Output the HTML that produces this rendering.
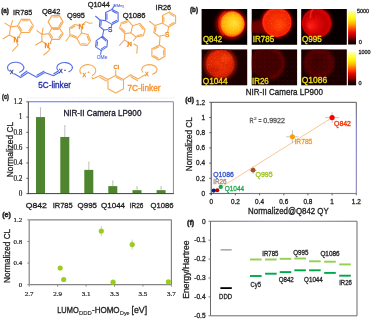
<!DOCTYPE html>
<html><head><meta charset="utf-8"><title>Figure</title>
<style>
html,body{margin:0;padding:0;background:#fff;}
body{width:372px;height:320px;overflow:hidden;}
svg{display:block;font-family:'Liberation Sans',sans-serif;}
</style></head><body>
<svg width="372" height="320" viewBox="0 0 372 320">
<rect width="372" height="320" fill="#fff"/>
<defs>
<linearGradient id="cbar" x1="0" y1="1" x2="0" y2="0">
<stop offset="0" stop-color="#08000c"/>
<stop offset="0.08" stop-color="#200000"/>
<stop offset="0.22" stop-color="#980000"/>
<stop offset="0.36" stop-color="#f00800"/>
<stop offset="0.5" stop-color="#ff6400"/>
<stop offset="0.62" stop-color="#ffb400"/>
<stop offset="0.74" stop-color="#fff000"/>
<stop offset="0.87" stop-color="#ffff50"/>
<stop offset="1" stop-color="#ffffc0"/>
</linearGradient>
<linearGradient id="topc" x1="0" y1="0" x2="1" y2="0">
<stop offset="0" stop-color="#6070f0"/>
<stop offset="0.55" stop-color="#7078d0"/>
<stop offset="1" stop-color="#8088a0"/>
</linearGradient>
<radialGradient id="g842" cx="0.5" cy="0.5" r="0.5" fx="0.62" fy="0.45">
<stop offset="0" stop-color="#ffe040"/>
<stop offset="0.45" stop-color="#ffc810"/>
<stop offset="0.75" stop-color="#ffa800"/>
<stop offset="0.9" stop-color="#ff6a00"/>
<stop offset="1" stop-color="#d81000"/>
</radialGradient>
<radialGradient id="g785" cx="0.5" cy="0.5" r="0.5" fx="0.62" fy="0.62">
<stop offset="0" stop-color="#ff4a08"/>
<stop offset="0.45" stop-color="#f83000"/>
<stop offset="0.8" stop-color="#ee2000"/>
<stop offset="0.93" stop-color="#ff2800"/>
<stop offset="1" stop-color="#b00000"/>
</radialGradient>
<radialGradient id="g995" cx="0.5" cy="0.5" r="0.5" fx="0.25" fy="0.62">
<stop offset="0" stop-color="#ff2418"/>
<stop offset="0.4" stop-color="#e00808"/>
<stop offset="0.75" stop-color="#c00000"/>
<stop offset="0.93" stop-color="#d80000"/>
<stop offset="1" stop-color="#800000"/>
</radialGradient>
<radialGradient id="g1044" cx="0.5" cy="0.5" r="0.5" fx="0.45" fy="0.45">
<stop offset="0" stop-color="#ec3000"/>
<stop offset="0.75" stop-color="#e02400"/>
<stop offset="0.92" stop-color="#c81800"/>
<stop offset="1" stop-color="#801000"/>
</radialGradient>
<radialGradient id="g26" cx="0.5" cy="0.5" r="0.5" fx="0.3" fy="0.5">
<stop offset="0" stop-color="#3a0000"/>
<stop offset="0.6" stop-color="#500000"/>
<stop offset="0.88" stop-color="#900000"/>
<stop offset="0.96" stop-color="#a80000"/>
<stop offset="1" stop-color="#300000"/>
</radialGradient>
<radialGradient id="g1086" cx="0.5" cy="0.5" r="0.5" fx="0.4" fy="0.5">
<stop offset="0" stop-color="#3a0000"/>
<stop offset="0.8" stop-color="#520000"/>
<stop offset="0.95" stop-color="#600000"/>
<stop offset="1" stop-color="#280000"/>
</radialGradient>
<filter id="spkY" x="0" y="0" width="100%" height="100%">
<feTurbulence type="fractalNoise" baseFrequency="0.75" numOctaves="2" seed="4" result="n"/>
<feColorMatrix in="n" type="matrix" values="0 0 0 0 1  0 0 0 0 0.88  0 0 0 0 0.3  2.0 0 0 0 -1.0" result="c"/>
<feComposite in="c" in2="SourceGraphic" operator="in"/>
</filter>
<filter id="spkR" x="0" y="0" width="100%" height="100%">
<feTurbulence type="fractalNoise" baseFrequency="0.7" numOctaves="2" seed="9" result="n"/>
<feColorMatrix in="n" type="matrix" values="0 0 0 0 1  0 0 0 0 0.4  0 0 0 0 0.1  2.0 0 0 0 -1.0" result="c"/>
<feComposite in="c" in2="SourceGraphic" operator="in"/>
</filter>
<filter id="spkD" x="0" y="0" width="100%" height="100%">
<feTurbulence type="fractalNoise" baseFrequency="0.7" numOctaves="2" seed="2" result="n"/>
<feColorMatrix in="n" type="matrix" values="0 0 0 0 0.6  0 0 0 0 0.02  0 0 0 0 0  2.0 0 0 0 -1.0" result="c"/>
<feComposite in="c" in2="SourceGraphic" operator="in"/>
</filter>
<pattern id="dots" x="0" y="0" width="4.6" height="4.6" patternUnits="userSpaceOnUse">
<rect x="2" y="2" width="0.8" height="0.8" fill="#707070" opacity="0.55"/>
</pattern>
<filter id="blur1" x="-50%" y="-50%" width="200%" height="200%"><feGaussianBlur stdDeviation="1.6"/></filter>
<filter id="blur05" x="-50%" y="-50%" width="200%" height="200%"><feGaussianBlur stdDeviation="0.7"/></filter>
<clipPath id="c1"><rect x="201.6" y="9" width="45.6" height="35.8"/></clipPath>
<clipPath id="c2"><rect x="251.7" y="9" width="45.4" height="35.8"/></clipPath>
<clipPath id="c3"><rect x="301.2" y="9" width="45.6" height="35.8"/></clipPath>
<clipPath id="c4"><rect x="201.6" y="49.4" width="45.6" height="35.9"/></clipPath>
<clipPath id="c5"><rect x="251.7" y="49.4" width="45.4" height="35.9"/></clipPath>
<clipPath id="c6"><rect x="301.2" y="49.4" width="45.6" height="35.9"/></clipPath>
</defs>
<text x="1.30" y="12.90" font-size="6.8" fill="#1e1e1e" stroke="#1e1e1e" stroke-width="0.42" textLength="7.60" lengthAdjust="spacingAndGlyphs" font-weight="bold">(a)</text>
<text x="13.10" y="14.60" font-size="7.3" fill="#1e1e1e" stroke="#1e1e1e" stroke-width="0.3" textLength="19.10" lengthAdjust="spacingAndGlyphs">IR785</text>
<text x="41.90" y="13.80" font-size="7.4" fill="#1e1e1e" stroke="#1e1e1e" stroke-width="0.3" textLength="18.50" lengthAdjust="spacingAndGlyphs">Q842</text>
<text x="66.90" y="18.10" font-size="7.3" fill="#1e1e1e" stroke="#1e1e1e" stroke-width="0.3" textLength="18.10" lengthAdjust="spacingAndGlyphs">Q995</text>
<text x="87.70" y="7.30" font-size="7.3" fill="#1e1e1e" stroke="#1e1e1e" stroke-width="0.3" textLength="22.30" lengthAdjust="spacingAndGlyphs">Q1044</text>
<text x="122.70" y="17.60" font-size="7.3" fill="#1e1e1e" stroke="#1e1e1e" stroke-width="0.3" textLength="22.90" lengthAdjust="spacingAndGlyphs">Q1086</text>
<text x="155.60" y="9.90" font-size="7.3" fill="#1e1e1e" stroke="#1e1e1e" stroke-width="0.3" textLength="15.60" lengthAdjust="spacingAndGlyphs">IR26</text>
<path d="M21.30,19.40 L29.40,19.40 L33.40,26.00 L29.40,32.50 L21.30,32.50 L17.50,26.00 Z" stroke="#f6aa55" stroke-width="1.1" fill="none" stroke-linejoin="round" stroke-linecap="round"/>
<path d="M22.60,20.75 L28.10,20.75 M31.61,26.33 L28.89,30.75 M21.86,30.78 L19.27,26.36" stroke="#f6aa55" stroke-width="1.1" fill="none" stroke-linejoin="round" stroke-linecap="round"/>
<path d="M17.50,26.00 L10.60,26.90 L9.40,35.00 L14.00,37.60" stroke="#f6aa55" stroke-width="1.1" fill="none" stroke-linejoin="round" stroke-linecap="round"/>
<path d="M18.20,37.20 L21.30,32.50" stroke="#f6aa55" stroke-width="1.1" fill="none" stroke-linejoin="round" stroke-linecap="round"/>
<path d="M5.00,23.10 L10.60,26.90 L12.50,20.60" stroke="#f6aa55" stroke-width="1.1" fill="none" stroke-linejoin="round" stroke-linecap="round"/>
<path d="M9.40,35.00 L3.10,38.80" stroke="#f6aa55" stroke-width="1.1" fill="none" stroke-linejoin="round" stroke-linecap="round"/>
<path d="M16.30,41.50 L18.10,45.00 L12.50,51.20" stroke="#f6aa55" stroke-width="1.1" fill="none" stroke-linejoin="round" stroke-linecap="round"/>
<text x="13.60" y="41.80" font-size="6.9" fill="#f08a20" stroke="#f08a20" stroke-width="0.3" font-weight="bold">N</text>
<text x="18.60" y="38.00" font-size="3.5" fill="#f08a20" stroke="#f08a20" stroke-width="0.12">+</text>
<path d="M51.90,15.60 L59.40,15.60 L63.10,21.90 L59.40,28.10 L51.90,28.10 L48.10,21.90 Z" stroke="#f6aa55" stroke-width="1.1" fill="none" stroke-linejoin="round" stroke-linecap="round"/>
<path d="M53.10,16.95 L58.20,16.95 M61.35,22.20 L58.83,26.42" stroke="#f6aa55" stroke-width="1.1" fill="none" stroke-linejoin="round" stroke-linecap="round"/>
<path d="M51.90,28.10 L59.40,28.10 L63.10,33.80 L59.40,39.40 L51.90,39.40 L48.75,33.80 Z" stroke="#f6aa55" stroke-width="1.1" fill="none" stroke-linejoin="round" stroke-linecap="round"/>
<path d="M53.10,29.45 L58.20,29.45 M52.57,37.84 L50.43,34.03 M61.38,33.95 L58.87,37.76" stroke="#f6aa55" stroke-width="1.1" fill="none" stroke-linejoin="round" stroke-linecap="round"/>
<path d="M48.75,33.80 L41.90,34.40 L41.90,41.25 L45.50,43.50" stroke="#f6aa55" stroke-width="1.1" fill="none" stroke-linejoin="round" stroke-linecap="round"/>
<path d="M50.30,42.60 L51.90,39.40" stroke="#f6aa55" stroke-width="1.1" fill="none" stroke-linejoin="round" stroke-linecap="round"/>
<path d="M36.90,30.60 L41.90,34.40 L43.10,28.10" stroke="#f6aa55" stroke-width="1.1" fill="none" stroke-linejoin="round" stroke-linecap="round"/>
<path d="M41.90,41.25 L35.60,45.00" stroke="#f6aa55" stroke-width="1.1" fill="none" stroke-linejoin="round" stroke-linecap="round"/>
<path d="M48.00,47.20 L50.00,48.80 L47.50,52.00 L43.80,55.00" stroke="#f6aa55" stroke-width="1.1" fill="none" stroke-linejoin="round" stroke-linecap="round"/>
<text x="44.60" y="47.60" font-size="6.9" fill="#f08a20" stroke="#f08a20" stroke-width="0.3" font-weight="bold">N</text>
<text x="49.60" y="43.80" font-size="3.5" fill="#f08a20" stroke="#f08a20" stroke-width="0.12">+</text>
<path d="M79.20,25.60 L75.00,24.50 L69.50,28.00 L70.00,35.50 L77.00,38.50 L81.50,33.00 L81.20,29.00" stroke="#f6aa55" stroke-width="1.1" fill="none" stroke-linejoin="round" stroke-linecap="round"/>
<path d="M74.84,26.20 L71.10,28.58 M71.65,34.74 L76.41,36.78" stroke="#f6aa55" stroke-width="1.1" fill="none" stroke-linejoin="round" stroke-linecap="round"/>
<path d="M81.50,33.00 L88.00,34.50 L90.50,41.00 L87.00,45.50 L80.50,45.00 L77.00,38.50" stroke="#f6aa55" stroke-width="1.1" fill="none" stroke-linejoin="round" stroke-linecap="round"/>
<path d="M87.14,36.02 L88.84,40.44 M86.06,44.07 L81.64,43.73" stroke="#f6aa55" stroke-width="1.1" fill="none" stroke-linejoin="round" stroke-linecap="round"/>
<path d="M70.00,35.50 L66.00,41.00" stroke="#f6aa55" stroke-width="1.1" fill="none" stroke-linejoin="round" stroke-linecap="round"/>
<path d="M 83.5,24.2 Q 85.5,20.8 87.2,22.2 Q 89.2,23.8 92.0,23.0" stroke="#f6aa55" stroke-width="1.1" fill="none" stroke-linejoin="round" stroke-linecap="round"/>
<text x="78.40" y="28.60" font-size="6.9" fill="#f08a20" stroke="#f08a20" stroke-width="0.3" font-weight="bold">N</text>
<text x="82.80" y="25.00" font-size="3.5" fill="#f08a20" stroke="#f08a20" stroke-width="0.12">+</text>
<path d="M111.90,9.40 L118.10,12.50 L118.10,21.25 L111.90,24.40 L105.60,20.60 L105.60,12.50 Z" stroke="#5470e8" stroke-width="1.1" fill="none" stroke-linejoin="round" stroke-linecap="round"/>
<path d="M112.29,11.10 L116.50,13.21 M116.50,20.55 L112.28,22.69 M106.95,19.30 L106.95,13.80" stroke="#5470e8" stroke-width="1.1" fill="none" stroke-linejoin="round" stroke-linecap="round"/>
<path d="M105.60,20.60 L100.00,20.00 L99.40,26.25 L103.75,30.00 L107.70,29.50" stroke="#5470e8" stroke-width="1.1" fill="none" stroke-linejoin="round" stroke-linecap="round"/>
<path d="M101.25,21.13 L100.84,25.38" stroke="#5470e8" stroke-width="1.1" fill="none" stroke-linejoin="round" stroke-linecap="round"/>
<path d="M111.90,24.40 L111.50,26.50" stroke="#5470e8" stroke-width="1.1" fill="none" stroke-linejoin="round" stroke-linecap="round"/>
<path d="M100.00,20.00 L95.60,16.25" stroke="#5470e8" stroke-width="1.1" fill="none" stroke-linejoin="round" stroke-linecap="round"/>
<path d="M111.90,9.40 L115.00,5.00" stroke="#5470e8" stroke-width="1.1" fill="none" stroke-linejoin="round" stroke-linecap="round"/>
<path d="M103.75,30.00 L102.50,36.25" stroke="#5470e8" stroke-width="1.1" fill="none" stroke-linejoin="round" stroke-linecap="round"/>
<path d="M102.50,36.25 L107.50,40.60 L106.90,46.90 L101.25,50.60 L95.60,46.90 L96.25,40.60 Z" stroke="#5470e8" stroke-width="1.1" fill="none" stroke-linejoin="round" stroke-linecap="round"/>
<path d="M102.41,37.96 L105.81,40.92 M105.26,46.36 L101.41,48.88 M97.05,46.03 L97.49,41.75" stroke="#5470e8" stroke-width="1.1" fill="none" stroke-linejoin="round" stroke-linecap="round"/>
<path d="M101.25,50.60 L100.60,54.40" stroke="#5470e8" stroke-width="1.1" fill="none" stroke-linejoin="round" stroke-linecap="round"/>
<text x="108.00" y="31.90" font-size="6.6" fill="#3a50c8" stroke="#3a50c8" stroke-width="0.3">S</text>
<text x="113.60" y="6.60" font-size="4.3" fill="#5470e8" stroke="#5470e8" stroke-width="0.12" textLength="9.00" lengthAdjust="spacingAndGlyphs">NMe</text>
<text x="122.50" y="7.60" font-size="3.0" fill="#5470e8" stroke="#5470e8" stroke-width="0.12">2</text>
<text x="96.80" y="58.60" font-size="4.6" fill="#5470e8" stroke="#5470e8" stroke-width="0.12" textLength="10.60" lengthAdjust="spacingAndGlyphs">OMe</text>
<path d="M121.30,22.80 L127.90,20.40 L132.60,25.70 L130.90,32.90 L124.90,33.50 L119.60,28.10 Z" stroke="#f6aa55" stroke-width="1.1" fill="none" stroke-linejoin="round" stroke-linecap="round"/>
<path d="M122.82,23.68 L127.31,22.05 M121.41,28.02 L125.02,31.69" stroke="#f6aa55" stroke-width="1.1" fill="none" stroke-linejoin="round" stroke-linecap="round"/>
<path d="M132.60,25.70 L139.80,23.40 L145.10,29.30 L143.30,35.80 L136.20,37.00 L130.90,32.90" stroke="#f6aa55" stroke-width="1.1" fill="none" stroke-linejoin="round" stroke-linecap="round"/>
<path d="M139.64,25.25 L143.25,29.26 M141.94,34.66 L137.11,35.48" stroke="#f6aa55" stroke-width="1.1" fill="none" stroke-linejoin="round" stroke-linecap="round"/>
<path d="M124.90,33.50 L124.30,40.00 L128.00,42.00" stroke="#f6aa55" stroke-width="1.1" fill="none" stroke-linejoin="round" stroke-linecap="round"/>
<path d="M124.30,40.00 L119.60,45.40" stroke="#e0a8a0" stroke-width="1.1" fill="none" stroke-linejoin="round" stroke-linecap="round"/>
<path d="M133.50,40.50 L136.20,37.00" stroke="#f6aa55" stroke-width="1.1" fill="none" stroke-linejoin="round" stroke-linecap="round"/>
<path d="M134.00,44.00 L137.40,46.00 L136.80,53.10" stroke="#f6aa55" stroke-width="1.1" fill="none" stroke-linejoin="round" stroke-linecap="round"/>
<text x="127.60" y="45.60" font-size="6.0" fill="#f08a20" stroke="#f08a20" stroke-width="0.3" font-weight="bold">N</text>
<text x="126.50" y="46.60" font-size="3.5" fill="#f08a20" stroke="#f08a20" stroke-width="0.12">+</text>
<path d="M169.40,11.90 L175.60,15.60 L175.60,23.10 L168.75,26.90 L162.50,23.10 L162.50,15.60 Z" stroke="#f6aa55" stroke-width="1.1" fill="none" stroke-linejoin="round" stroke-linecap="round"/>
<path d="M169.70,13.65 L173.92,16.17 M173.85,22.53 L169.19,25.11 M163.85,21.90 L163.85,16.80" stroke="#f6aa55" stroke-width="1.1" fill="none" stroke-linejoin="round" stroke-linecap="round"/>
<path d="M162.50,23.10 L155.00,25.60 L153.75,32.50 L158.75,36.25 L165.30,35.00" stroke="#f6aa55" stroke-width="1.1" fill="none" stroke-linejoin="round" stroke-linecap="round"/>
<path d="M156.13,26.94 L155.28,31.64" stroke="#f6aa55" stroke-width="1.1" fill="none" stroke-linejoin="round" stroke-linecap="round"/>
<path d="M168.75,26.90 L167.80,31.40" stroke="#f6aa55" stroke-width="1.1" fill="none" stroke-linejoin="round" stroke-linecap="round"/>
<path d="M155.00,25.60 L149.40,21.25" stroke="#f6aa55" stroke-width="1.1" fill="none" stroke-linejoin="round" stroke-linecap="round"/>
<path d="M160.00,36.90 L159.40,45.00" stroke="#f6aa55" stroke-width="1.1" fill="none" stroke-linejoin="round" stroke-linecap="round"/>
<path d="M159.40,45.00 L165.00,48.75 L165.00,56.25 L158.75,60.00 L151.90,56.25 L151.90,48.75 Z" stroke="#f6aa55" stroke-width="1.1" fill="none" stroke-linejoin="round" stroke-linecap="round"/>
<path d="M163.65,49.95 L163.65,55.05 M158.30,58.22 L153.64,55.67 M153.70,49.36 L158.80,46.81" stroke="#f6aa55" stroke-width="1.1" fill="none" stroke-linejoin="round" stroke-linecap="round"/>
<text x="165.00" y="37.30" font-size="6.6" fill="#f08a20" stroke="#f08a20" stroke-width="0.3">S</text>
<path d="M 10.0,71.4 A 8.2,5.3 0 1 1 19.6,72.2" stroke="#5470e8" stroke-width="1.1" fill="none" stroke-linejoin="round" stroke-linecap="round"/>
<path d="M14.40,73.75 L20.60,77.50 L28.10,72.50 L36.70,77.20 L44.80,72.50 L53.50,75.80 L59.50,72.30" stroke="#5470e8" stroke-width="1.1" fill="none" stroke-linejoin="round" stroke-linecap="round"/>
<path d="M21.00,75.50 L27.00,71.00 M37.00,75.30 L44.00,71.20 M53.80,73.80 L58.30,71.00" stroke="#5470e8" stroke-width="1.1" fill="none" stroke-linejoin="round" stroke-linecap="round"/>
<path d="M 58.4,70.6 A 7.8,5.0 0 1 1 68.8,71.8" stroke="#5470e8" stroke-width="1.1" fill="none" stroke-linejoin="round" stroke-linecap="round"/>
<text x="10.00" y="74.40" font-size="5.4" fill="#2a3590" stroke="#2a3590" stroke-width="0.3">X</text>
<text x="59.00" y="73.40" font-size="5.4" fill="#2a3590" stroke="#2a3590" stroke-width="0.3">X</text>
<text x="64.00" y="70.50" font-size="3.5" fill="#2a3590" stroke="#2a3590" stroke-width="0.12">+</text>
<text x="38.30" y="87.90" font-size="9.4" fill="#2a34ac" stroke="#2a34ac" stroke-width="0.4" textLength="32.60" lengthAdjust="spacingAndGlyphs">5C-linker</text>
<path d="M 81.0,73.6 A 8.0,5.9 0 1 1 92.4,75.4" stroke="#f6aa55" stroke-width="1.1" fill="none" stroke-linejoin="round" stroke-linecap="round"/>
<path d="M91.90,77.20 L92.60,78.90 L100.30,75.40 L108.00,79.60" stroke="#f6aa55" stroke-width="1.1" fill="none" stroke-linejoin="round" stroke-linecap="round"/>
<path d="M100.00,77.40 L106.60,81.00" stroke="#f6aa55" stroke-width="1.1" fill="none" stroke-linejoin="round" stroke-linecap="round"/>
<path d="M108.00,79.60 L115.70,75.40 L123.50,79.60 L123.50,88.70 L115.70,92.90 L108.00,88.70 Z" stroke="#f6aa55" stroke-width="1.1" fill="none" stroke-linejoin="round" stroke-linecap="round"/>
<path d="M116.31,77.26 L121.61,80.12" stroke="#f6aa55" stroke-width="1.1" fill="none" stroke-linejoin="round" stroke-linecap="round"/>
<path d="M115.70,75.40 L115.70,70.60" stroke="#f6aa55" stroke-width="1.1" fill="none" stroke-linejoin="round" stroke-linecap="round"/>
<path d="M123.50,79.60 L130.40,74.70 L138.20,78.90 L145.20,74.70" stroke="#f6aa55" stroke-width="1.1" fill="none" stroke-linejoin="round" stroke-linecap="round"/>
<path d="M130.80,76.80 L137.40,80.60" stroke="#f6aa55" stroke-width="1.1" fill="none" stroke-linejoin="round" stroke-linecap="round"/>
<path d="M 142.8,72.2 A 7.7,5.0 0 1 1 152.4,74.2" stroke="#f6aa55" stroke-width="1.1" fill="none" stroke-linejoin="round" stroke-linecap="round"/>
<text x="82.60" y="76.70" font-size="5.4" fill="#f08a20" stroke="#f08a20" stroke-width="0.3">X</text>
<text x="87.60" y="73.40" font-size="3.5" fill="#f08a20" stroke="#f08a20" stroke-width="0.12">+</text>
<text x="145.00" y="76.20" font-size="5.4" fill="#f08a20" stroke="#f08a20" stroke-width="0.3">X</text>
<text x="113.40" y="69.20" font-size="5.6" fill="#f08a20" stroke="#f08a20" stroke-width="0.3" textLength="5.60" lengthAdjust="spacingAndGlyphs">Cl</text>
<text x="127.50" y="90.80" font-size="9.2" fill="#f59530" stroke="#f59530" stroke-width="0.4" textLength="33.00" lengthAdjust="spacingAndGlyphs">7C-linker</text>
<text x="190.00" y="11.60" font-size="6.4" fill="#1e1e1e" stroke="#1e1e1e" stroke-width="0.42" textLength="8.00" lengthAdjust="spacingAndGlyphs" font-weight="bold">(b)</text>
<rect x="201.6" y="9" width="45.6" height="35.8" fill="#080000"/>
<rect x="251.7" y="9" width="45.4" height="35.8" fill="#080000"/>
<rect x="301.2" y="9" width="45.6" height="35.8" fill="#080000"/>
<rect x="201.6" y="49.4" width="45.6" height="35.9" fill="#1c0000"/>
<rect x="251.7" y="49.4" width="45.4" height="35.9" fill="#1c0000"/>
<rect x="301.2" y="49.4" width="45.6" height="35.9" fill="#1c0000"/>
<g clip-path="url(#c1)"><circle cx="231.0" cy="24.0" r="15.6" fill="#8a0000" filter="url(#blur1)"/><circle cx="231.8" cy="24.0" r="13.2" fill="url(#g842)"/><path d="M226,12 Q218,16 219.5,26 Q220.5,32 224,35" stroke="#e02000" stroke-width="2.6" fill="none" opacity="0.75" filter="url(#blur05)"/><circle cx="232.5" cy="24.0" r="12.0" fill="#000" filter="url(#spkY)" opacity="0.55"/></g>
<g clip-path="url(#c2)"><ellipse cx="259" cy="27" rx="10" ry="7" fill="#700000" filter="url(#blur1)"/><circle cx="276.8" cy="22.2" r="16.3" fill="#7a0000" filter="url(#blur1)"/><circle cx="276.8" cy="22.2" r="15.0" fill="url(#g785)"/><circle cx="276.8" cy="22.2" r="14.0" fill="#000" filter="url(#spkR)" opacity="0.35"/></g>
<g clip-path="url(#c3)"><circle cx="316.8" cy="23.0" r="15.8" fill="#600000" filter="url(#blur1)"/><circle cx="316.8" cy="23.0" r="15.0" fill="url(#g995)"/><path d="M313,9 Q310,13 310.5,18" stroke="#ff4030" stroke-width="1.4" fill="none" opacity="0.6" filter="url(#blur05)"/><path d="M315.5,9 Q313,13 313.5,19" stroke="#a00000" stroke-width="1.0" fill="none" opacity="0.6" filter="url(#blur05)"/></g>
<g clip-path="url(#c4)"><circle cx="220.2" cy="63.8" r="17" fill="#781000" filter="url(#blur1)"/><circle cx="220.2" cy="63.8" r="14.8" fill="url(#g1044)"/><ellipse cx="213" cy="70" rx="6" ry="3" fill="#b01000" opacity="0.5" filter="url(#blur1)"/><ellipse cx="226" cy="58" rx="5" ry="4" fill="#ff4a10" opacity="0.5" filter="url(#blur1)"/><circle cx="220.2" cy="63.8" r="14.2" fill="#000" filter="url(#spkR)" opacity="0.4"/><circle cx="220.2" cy="63.8" r="14.2" fill="#000" filter="url(#spkD)" opacity="0.5"/></g>
<g clip-path="url(#c5)"><circle cx="267.5" cy="63.1" r="15.6" fill="#420000" filter="url(#blur1)"/><path d="M270,48.2 A15,15 0 0 1 270,78.0" stroke="#780000" stroke-width="2.6" fill="none" filter="url(#blur1)"/><path d="M262,48.8 A15,15 0 0 0 256,73" stroke="#600000" stroke-width="2" fill="none" filter="url(#blur1)"/></g>
<g clip-path="url(#c6)"><circle cx="319.2" cy="63.1" r="15.5" fill="url(#g1086)" filter="url(#blur1)"/></g>
<rect x="251.7" y="49.4" width="45.4" height="35.9" fill="url(#dots)" opacity="0.35"/>
<rect x="301.2" y="49.4" width="45.6" height="35.9" fill="url(#dots)" opacity="0.35"/>
<rect x="348.1" y="10.6" width="7.9" height="33.9" fill="url(#cbar)"/>
<rect x="347.9" y="51.7" width="8.2" height="33.6" fill="url(#cbar)"/>
<text x="203.00" y="41.90" font-size="8.6" fill="#ece420" stroke="#ece420" stroke-width="0.3" textLength="19.20" lengthAdjust="spacingAndGlyphs">Q842</text>
<text x="252.70" y="42.30" font-size="8.6" fill="#ece420" stroke="#ece420" stroke-width="0.3" textLength="21.50" lengthAdjust="spacingAndGlyphs">IR785</text>
<text x="302.00" y="42.40" font-size="8.6" fill="#ece420" stroke="#ece420" stroke-width="0.3" textLength="19.80" lengthAdjust="spacingAndGlyphs">Q995</text>
<text x="202.70" y="84.20" font-size="8.6" fill="#ece420" stroke="#ece420" stroke-width="0.3" textLength="24.90" lengthAdjust="spacingAndGlyphs">Q1044</text>
<text x="252.00" y="83.90" font-size="8.6" fill="#ece420" stroke="#ece420" stroke-width="0.3" textLength="16.80" lengthAdjust="spacingAndGlyphs">IR26</text>
<text x="301.70" y="83.40" font-size="8.6" fill="#ece420" stroke="#ece420" stroke-width="0.3" textLength="25.50" lengthAdjust="spacingAndGlyphs">Q1086</text>
<text x="357.00" y="12.60" font-size="5.6" fill="#1e1e1e" stroke="#1e1e1e" stroke-width="0.3" textLength="12.00" lengthAdjust="spacingAndGlyphs">5000</text>
<text x="358.70" y="44.40" font-size="5.6" fill="#1e1e1e" stroke="#1e1e1e" stroke-width="0.3">0</text>
<text x="358.40" y="53.80" font-size="5.6" fill="#1e1e1e" stroke="#1e1e1e" stroke-width="0.3" textLength="12.10" lengthAdjust="spacingAndGlyphs">1000</text>
<text x="358.60" y="84.60" font-size="5.6" fill="#1e1e1e" stroke="#1e1e1e" stroke-width="0.3">0</text>
<text x="245.80" y="94.50" font-size="8.8" fill="#1e1e1e" stroke="#1e1e1e" stroke-width="0.32" textLength="77.20" lengthAdjust="spacingAndGlyphs">NIR-II Camera LP900</text>
<text x="2.10" y="99.20" font-size="7.0" fill="#1e1e1e" stroke="#1e1e1e" stroke-width="0.42" textLength="6.80" lengthAdjust="spacingAndGlyphs" font-weight="bold">(c)</text>
<line x1="27.00" y1="98.00" x2="175.00" y2="98.00" stroke="#d4d4e0" stroke-width="0.6" stroke-dasharray="0.9 0.9"/>
<rect x="28.3" y="101.25" width="145.1" height="1" fill="url(#topc)"/>
<line x1="173.40" y1="101.75" x2="173.40" y2="193.60" stroke="#8a8a8a" stroke-width="1"/>
<line x1="40.50" y1="107.80" x2="40.50" y2="117.06" stroke="#b0b0b0" stroke-width="0.8"/>
<line x1="39.70" y1="107.80" x2="41.30" y2="107.80" stroke="#b0b0b0" stroke-width="0.6"/>
<rect x="36.00" y="117.06" width="9" height="76.54" fill="#508530"/>
<line x1="64.80" y1="125.80" x2="64.80" y2="136.96" stroke="#b0b0b0" stroke-width="0.8"/>
<line x1="64.00" y1="125.80" x2="65.60" y2="125.80" stroke="#b0b0b0" stroke-width="0.6"/>
<rect x="60.30" y="136.96" width="9" height="56.64" fill="#508530"/>
<line x1="88.80" y1="162.30" x2="88.80" y2="169.87" stroke="#b0b0b0" stroke-width="0.8"/>
<line x1="88.00" y1="162.30" x2="89.60" y2="162.30" stroke="#b0b0b0" stroke-width="0.6"/>
<rect x="84.30" y="169.87" width="9" height="23.73" fill="#508530"/>
<line x1="112.80" y1="181.00" x2="112.80" y2="186.10" stroke="#b0b0b0" stroke-width="0.8"/>
<line x1="112.00" y1="181.00" x2="113.60" y2="181.00" stroke="#b0b0b0" stroke-width="0.6"/>
<rect x="108.30" y="186.10" width="9" height="7.50" fill="#508530"/>
<line x1="137.00" y1="186.80" x2="137.00" y2="190.16" stroke="#b0b0b0" stroke-width="0.8"/>
<line x1="136.20" y1="186.80" x2="137.80" y2="186.80" stroke="#b0b0b0" stroke-width="0.6"/>
<rect x="132.50" y="190.16" width="9" height="3.44" fill="#508530"/>
<line x1="161.10" y1="186.80" x2="161.10" y2="190.16" stroke="#b0b0b0" stroke-width="0.8"/>
<line x1="160.30" y1="186.80" x2="161.90" y2="186.80" stroke="#b0b0b0" stroke-width="0.6"/>
<rect x="156.60" y="190.16" width="9" height="3.44" fill="#508530"/>
<line x1="28.30" y1="101.75" x2="28.30" y2="194.10" stroke="#404040" stroke-width="1"/>
<line x1="27.80" y1="193.60" x2="173.90" y2="193.60" stroke="#404040" stroke-width="1"/>
<line x1="26.30" y1="193.60" x2="28.30" y2="193.60" stroke="#404040" stroke-width="0.8"/>
<text x="22.40" y="195.90" font-size="7.2" fill="#262626" stroke="#262626" stroke-width="0.22" font-family="'Liberation Serif', serif" text-anchor="end">0</text>
<line x1="26.30" y1="178.29" x2="28.30" y2="178.29" stroke="#404040" stroke-width="0.8"/>
<text x="22.40" y="180.59" font-size="7.2" fill="#262626" stroke="#262626" stroke-width="0.22" font-family="'Liberation Serif', serif" text-anchor="end">0.2</text>
<line x1="26.30" y1="162.98" x2="28.30" y2="162.98" stroke="#404040" stroke-width="0.8"/>
<text x="22.40" y="165.28" font-size="7.2" fill="#262626" stroke="#262626" stroke-width="0.22" font-family="'Liberation Serif', serif" text-anchor="end">0.4</text>
<line x1="26.30" y1="147.67" x2="28.30" y2="147.67" stroke="#404040" stroke-width="0.8"/>
<text x="22.40" y="149.97" font-size="7.2" fill="#262626" stroke="#262626" stroke-width="0.22" font-family="'Liberation Serif', serif" text-anchor="end">0.6</text>
<line x1="26.30" y1="132.37" x2="28.30" y2="132.37" stroke="#404040" stroke-width="0.8"/>
<text x="22.40" y="134.67" font-size="7.2" fill="#262626" stroke="#262626" stroke-width="0.22" font-family="'Liberation Serif', serif" text-anchor="end">0.8</text>
<line x1="26.30" y1="117.06" x2="28.30" y2="117.06" stroke="#404040" stroke-width="0.8"/>
<text x="22.40" y="119.36" font-size="7.2" fill="#262626" stroke="#262626" stroke-width="0.22" font-family="'Liberation Serif', serif" text-anchor="end">1</text>
<line x1="26.30" y1="101.75" x2="28.30" y2="101.75" stroke="#404040" stroke-width="0.8"/>
<text x="22.40" y="104.05" font-size="7.2" fill="#262626" stroke="#262626" stroke-width="0.22" font-family="'Liberation Serif', serif" text-anchor="end">1.2</text>
<text transform="translate(12.90,177.20) rotate(-90)" x="0" y="0" font-size="9.2" fill="#262626" stroke="#262626" stroke-width="0.3" textLength="55.30" lengthAdjust="spacingAndGlyphs">Normalized CL</text>
<text x="63.40" y="115.60" font-size="8.7" fill="#1a1a2a" stroke="#1a1a2a" stroke-width="0.32" textLength="78.00" lengthAdjust="spacingAndGlyphs">NIR-II Camera LP900</text>
<text x="25.80" y="208.40" font-size="7.6" fill="#1e1e1e" stroke="#1e1e1e" stroke-width="0.3" textLength="21.10" lengthAdjust="spacingAndGlyphs">Q842</text>
<text x="52.70" y="208.40" font-size="7.6" fill="#1e1e1e" stroke="#1e1e1e" stroke-width="0.3" textLength="20.00" lengthAdjust="spacingAndGlyphs">IR785</text>
<text x="77.60" y="208.40" font-size="7.6" fill="#1e1e1e" stroke="#1e1e1e" stroke-width="0.3" textLength="19.40" lengthAdjust="spacingAndGlyphs">Q995</text>
<text x="101.00" y="208.40" font-size="7.6" fill="#1e1e1e" stroke="#1e1e1e" stroke-width="0.3" textLength="24.10" lengthAdjust="spacingAndGlyphs">Q1044</text>
<text x="129.80" y="208.40" font-size="7.6" fill="#1e1e1e" stroke="#1e1e1e" stroke-width="0.3" textLength="13.60" lengthAdjust="spacingAndGlyphs">IR26</text>
<text x="150.50" y="208.40" font-size="7.6" fill="#1e1e1e" stroke="#1e1e1e" stroke-width="0.3" textLength="23.00" lengthAdjust="spacingAndGlyphs">Q1086</text>
<text x="185.30" y="102.40" font-size="6.8" fill="#1e1e1e" stroke="#1e1e1e" stroke-width="0.42" textLength="8.60" lengthAdjust="spacingAndGlyphs" font-weight="bold">(d)</text>
<line x1="211.20" y1="102.30" x2="356.30" y2="102.30" stroke="#555555" stroke-width="1"/>
<rect x="355.8" y="102.3" width="1" height="91.2" fill="url(#dright)"/>
<defs><linearGradient id="dright" x1="0" y1="0" x2="0" y2="1" gradientUnits="objectBoundingBox"><stop offset="0" stop-color="#555"/><stop offset="0.3" stop-color="#7070c0"/><stop offset="1" stop-color="#7f78a8"/></linearGradient><linearGradient id="dbot" x1="0" y1="0" x2="1" y2="0"><stop offset="0" stop-color="#4a5ae0"/><stop offset="0.35" stop-color="#7a7ab0"/><stop offset="1" stop-color="#808090"/></linearGradient></defs>
<rect x="211.2" y="192.95" width="145.10000000000002" height="1.1" fill="url(#dbot)"/>
<line x1="211.20" y1="102.30" x2="211.20" y2="195.00" stroke="#404040" stroke-width="1"/>
<line x1="209.20" y1="193.50" x2="211.20" y2="193.50" stroke="#404040" stroke-width="0.8"/>
<line x1="211.20" y1="193.50" x2="211.20" y2="195.30" stroke="#404040" stroke-width="0.8"/>
<text x="205.00" y="195.70" font-size="6.4" fill="#262626" stroke="#262626" stroke-width="0.3" text-anchor="end">0</text>
<text x="211.20" y="203.60" font-size="6.4" fill="#262626" stroke="#262626" stroke-width="0.3" text-anchor="middle">0</text>
<line x1="209.20" y1="178.30" x2="211.20" y2="178.30" stroke="#404040" stroke-width="0.8"/>
<line x1="235.38" y1="193.50" x2="235.38" y2="195.30" stroke="#404040" stroke-width="0.8"/>
<text x="205.00" y="180.50" font-size="6.4" fill="#262626" stroke="#262626" stroke-width="0.3" text-anchor="end">0.2</text>
<text x="235.38" y="203.60" font-size="6.4" fill="#262626" stroke="#262626" stroke-width="0.3" text-anchor="middle">0.2</text>
<line x1="209.20" y1="163.10" x2="211.20" y2="163.10" stroke="#404040" stroke-width="0.8"/>
<line x1="259.57" y1="193.50" x2="259.57" y2="195.30" stroke="#404040" stroke-width="0.8"/>
<text x="205.00" y="165.30" font-size="6.4" fill="#262626" stroke="#262626" stroke-width="0.3" text-anchor="end">0.4</text>
<text x="259.57" y="203.60" font-size="6.4" fill="#262626" stroke="#262626" stroke-width="0.3" text-anchor="middle">0.4</text>
<line x1="209.20" y1="147.90" x2="211.20" y2="147.90" stroke="#404040" stroke-width="0.8"/>
<line x1="283.75" y1="193.50" x2="283.75" y2="195.30" stroke="#404040" stroke-width="0.8"/>
<text x="205.00" y="150.10" font-size="6.4" fill="#262626" stroke="#262626" stroke-width="0.3" text-anchor="end">0.6</text>
<text x="283.75" y="203.60" font-size="6.4" fill="#262626" stroke="#262626" stroke-width="0.3" text-anchor="middle">0.6</text>
<line x1="209.20" y1="132.70" x2="211.20" y2="132.70" stroke="#404040" stroke-width="0.8"/>
<line x1="307.93" y1="193.50" x2="307.93" y2="195.30" stroke="#404040" stroke-width="0.8"/>
<text x="205.00" y="134.90" font-size="6.4" fill="#262626" stroke="#262626" stroke-width="0.3" text-anchor="end">0.8</text>
<text x="307.93" y="203.60" font-size="6.4" fill="#262626" stroke="#262626" stroke-width="0.3" text-anchor="middle">0.8</text>
<line x1="209.20" y1="117.50" x2="211.20" y2="117.50" stroke="#404040" stroke-width="0.8"/>
<line x1="332.12" y1="193.50" x2="332.12" y2="195.30" stroke="#404040" stroke-width="0.8"/>
<text x="205.00" y="119.70" font-size="6.4" fill="#262626" stroke="#262626" stroke-width="0.3" text-anchor="end">1</text>
<text x="332.12" y="203.60" font-size="6.4" fill="#262626" stroke="#262626" stroke-width="0.3" text-anchor="middle">1</text>
<line x1="209.20" y1="102.30" x2="211.20" y2="102.30" stroke="#404040" stroke-width="0.8"/>
<line x1="356.30" y1="193.50" x2="356.30" y2="195.30" stroke="#404040" stroke-width="0.8"/>
<text x="205.00" y="104.50" font-size="6.4" fill="#262626" stroke="#262626" stroke-width="0.3" text-anchor="end">1.2</text>
<text x="356.30" y="203.60" font-size="6.4" fill="#262626" stroke="#262626" stroke-width="0.3" text-anchor="middle">1.2</text>
<text transform="translate(192.00,171.20) rotate(-90)" x="0" y="0" font-size="8.8" fill="#262626" stroke="#262626" stroke-width="0.3" textLength="54.00" lengthAdjust="spacingAndGlyphs">Normalized CL</text>
<text x="248.10" y="213.70" font-size="8.8" fill="#1e1e1e" stroke="#1e1e1e" stroke-width="0.32" textLength="80.60" lengthAdjust="spacingAndGlyphs">Normalized@Q842 QY</text>
<text x="249.60" y="123.20" font-size="6.8" fill="#5a5a5a" stroke="#5a5a5a" stroke-width="0.3" textLength="4.10" lengthAdjust="spacingAndGlyphs">R</text>
<text x="253.90" y="120.30" font-size="4.2" fill="#5a5a5a" stroke="#5a5a5a" stroke-width="0.2" textLength="2.60" lengthAdjust="spacingAndGlyphs">2</text>
<text x="258.60" y="123.00" font-size="6.4" fill="#5a5a5a" stroke="#5a5a5a" stroke-width="0.3" textLength="3.00" lengthAdjust="spacingAndGlyphs">=</text>
<text x="263.20" y="123.20" font-size="6.8" fill="#5a5a5a" stroke="#5a5a5a" stroke-width="0.3" textLength="21.80" lengthAdjust="spacingAndGlyphs">0.9922</text>
<line x1="214.80" y1="191.20" x2="332.10" y2="117.60" stroke="#f8c08a" stroke-width="0.9"/>
<line x1="325.10" y1="117.60" x2="339.10" y2="117.60" stroke="#b8b8b8" stroke-width="0.8"/>
<line x1="332.10" y1="112.30" x2="332.10" y2="122.90" stroke="#b8b8b8" stroke-width="0.8"/>
<line x1="286.20" y1="136.80" x2="298.60" y2="136.80" stroke="#b8b8b8" stroke-width="0.8"/>
<line x1="292.40" y1="130.20" x2="292.40" y2="143.40" stroke="#b8b8b8" stroke-width="0.8"/>
<line x1="249.60" y1="170.20" x2="256.60" y2="170.20" stroke="#b8b8b8" stroke-width="0.8"/>
<line x1="253.10" y1="166.20" x2="253.10" y2="174.20" stroke="#b8b8b8" stroke-width="0.8"/>
<line x1="218.95" y1="186.90" x2="222.55" y2="186.90" stroke="#b8b8b8" stroke-width="0.8"/>
<line x1="220.75" y1="185.10" x2="220.75" y2="188.70" stroke="#b8b8b8" stroke-width="0.8"/>
<line x1="216.05" y1="190.25" x2="218.45" y2="190.25" stroke="#b8b8b8" stroke-width="0.8"/>
<line x1="217.25" y1="189.05" x2="217.25" y2="191.45" stroke="#b8b8b8" stroke-width="0.8"/>
<line x1="212.75" y1="190.60" x2="214.75" y2="190.60" stroke="#b8b8b8" stroke-width="0.8"/>
<line x1="213.75" y1="189.60" x2="213.75" y2="191.60" stroke="#b8b8b8" stroke-width="0.8"/>
<circle cx="332.1" cy="117.6" r="2.6" fill="#ff0000"/>
<circle cx="292.4" cy="136.8" r="2.5" fill="#ff9a00"/>
<circle cx="253.1" cy="170.2" r="2.4" fill="#a0522d"/>
<circle cx="220.75" cy="186.9" r="2.1" fill="#00b050"/>
<circle cx="217.25" cy="190.25" r="2.0" fill="#c00000"/>
<circle cx="213.75" cy="190.6" r="2.1" fill="#002070"/>
<text x="334.10" y="126.40" font-size="7.2" fill="#f03a10" stroke="#f03a10" stroke-width="0.38" textLength="16.80" lengthAdjust="spacingAndGlyphs">Q842</text>
<text x="294.50" y="144.10" font-size="7.2" fill="#f49a20" stroke="#f49a20" stroke-width="0.3" textLength="17.80" lengthAdjust="spacingAndGlyphs">IR785</text>
<text x="255.50" y="176.80" font-size="7.2" fill="#9cc21a" stroke="#9cc21a" stroke-width="0.3" textLength="17.20" lengthAdjust="spacingAndGlyphs">Q995</text>
<text x="213.25" y="176.80" font-size="7.2" fill="#3350c8" stroke="#3350c8" stroke-width="0.3" textLength="20.50" lengthAdjust="spacingAndGlyphs">Q1086</text>
<text x="213.25" y="184.40" font-size="7.2" fill="#a88878" stroke="#a88878" stroke-width="0.3" textLength="13.40" lengthAdjust="spacingAndGlyphs">IR26</text>
<text x="224.75" y="191.20" font-size="7.2" fill="#1aa84a" stroke="#1aa84a" stroke-width="0.3" textLength="19.40" lengthAdjust="spacingAndGlyphs">Q1044</text>
<text x="2.20" y="217.30" font-size="7.2" fill="#1e1e1e" stroke="#1e1e1e" stroke-width="0.42" textLength="8.80" lengthAdjust="spacingAndGlyphs" font-weight="bold">(e)</text>
<line x1="29.20" y1="219.80" x2="171.40" y2="219.80" stroke="#858585" stroke-width="1.2"/>
<line x1="171.40" y1="219.80" x2="171.40" y2="284.70" stroke="#858585" stroke-width="1.2"/>
<line x1="29.20" y1="219.80" x2="29.20" y2="284.70" stroke="#858585" stroke-width="1.2"/>
<line x1="29.20" y1="284.70" x2="171.40" y2="284.70" stroke="#858585" stroke-width="1.2"/>
<line x1="27.20" y1="284.70" x2="29.20" y2="284.70" stroke="#858585" stroke-width="0.9"/>
<text x="22.20" y="286.90" font-size="6.9" fill="#262626" stroke="#262626" stroke-width="0.22" font-family="'Liberation Serif', serif" text-anchor="end">0</text>
<line x1="27.20" y1="263.07" x2="29.20" y2="263.07" stroke="#858585" stroke-width="0.9"/>
<text x="22.20" y="265.27" font-size="6.9" fill="#262626" stroke="#262626" stroke-width="0.22" font-family="'Liberation Serif', serif" text-anchor="end">0.4</text>
<line x1="27.20" y1="241.43" x2="29.20" y2="241.43" stroke="#858585" stroke-width="0.9"/>
<text x="22.20" y="243.63" font-size="6.9" fill="#262626" stroke="#262626" stroke-width="0.22" font-family="'Liberation Serif', serif" text-anchor="end">0.8</text>
<line x1="27.20" y1="219.80" x2="29.20" y2="219.80" stroke="#858585" stroke-width="0.9"/>
<text x="22.20" y="222.00" font-size="6.9" fill="#262626" stroke="#262626" stroke-width="0.22" font-family="'Liberation Serif', serif" text-anchor="end">1.2</text>
<line x1="29.20" y1="284.70" x2="29.20" y2="286.70" stroke="#858585" stroke-width="0.9"/>
<text x="29.20" y="296.00" font-size="7.0" fill="#262626" stroke="#262626" stroke-width="0.22" font-family="'Liberation Serif', serif" text-anchor="middle">2.7</text>
<line x1="57.64" y1="284.70" x2="57.64" y2="286.70" stroke="#858585" stroke-width="0.9"/>
<text x="57.64" y="296.00" font-size="7.0" fill="#262626" stroke="#262626" stroke-width="0.22" font-family="'Liberation Serif', serif" text-anchor="middle">2.9</text>
<line x1="86.08" y1="284.70" x2="86.08" y2="286.70" stroke="#858585" stroke-width="0.9"/>
<text x="86.08" y="296.00" font-size="7.0" fill="#262626" stroke="#262626" stroke-width="0.22" font-family="'Liberation Serif', serif" text-anchor="middle">3.1</text>
<line x1="114.52" y1="284.70" x2="114.52" y2="286.70" stroke="#858585" stroke-width="0.9"/>
<text x="114.52" y="296.00" font-size="7.0" fill="#262626" stroke="#262626" stroke-width="0.22" font-family="'Liberation Serif', serif" text-anchor="middle">3.3</text>
<line x1="142.96" y1="284.70" x2="142.96" y2="286.70" stroke="#858585" stroke-width="0.9"/>
<text x="142.96" y="296.00" font-size="7.0" fill="#262626" stroke="#262626" stroke-width="0.22" font-family="'Liberation Serif', serif" text-anchor="middle">3.5</text>
<line x1="171.40" y1="284.70" x2="171.40" y2="286.70" stroke="#858585" stroke-width="0.9"/>
<text x="171.40" y="296.00" font-size="7.0" fill="#262626" stroke="#262626" stroke-width="0.22" font-family="'Liberation Serif', serif" text-anchor="middle">3.7</text>
<text transform="translate(9.60,283.00) rotate(-90)" x="0" y="0" font-size="8.8" fill="#262626" stroke="#262626" stroke-width="0.3" textLength="54.10" lengthAdjust="spacingAndGlyphs">Normalized CL</text>
<text x="57.2" y="313.4" font-size="8.8" fill="#1e1e1e" stroke="#1e1e1e" stroke-width="0.32"><tspan textLength="21.5" lengthAdjust="spacingAndGlyphs">LUMO</tspan><tspan x="79.0" y="315.2" font-size="5.2" stroke-width="0.12" textLength="12.8" lengthAdjust="spacingAndGlyphs">DDD</tspan><tspan x="92.0" y="313.3" textLength="27.6" lengthAdjust="spacingAndGlyphs">-HOMO</tspan><tspan x="120.0" y="315.2" font-size="5.2" stroke-width="0.12" textLength="9.6" lengthAdjust="spacingAndGlyphs">Dye</tspan><tspan x="131.6" y="313.3" textLength="15.5" lengthAdjust="spacingAndGlyphs">[eV]</tspan></text>
<line x1="101.30" y1="226.10" x2="101.30" y2="236.10" stroke="#c0c0c0" stroke-width="0.8"/>
<circle cx="101.3" cy="231.1" r="2.6" fill="#9acd1e"/>
<line x1="132.20" y1="239.60" x2="132.20" y2="249.60" stroke="#c0c0c0" stroke-width="0.8"/>
<circle cx="132.2" cy="244.6" r="2.6" fill="#9acd1e"/>
<circle cx="60.2" cy="268.0" r="2.6" fill="#9acd1e"/>
<circle cx="63.7" cy="279.5" r="2.6" fill="#9acd1e"/>
<circle cx="113.1" cy="282.2" r="2.6" fill="#9acd1e"/>
<circle cx="168.4" cy="281.8" r="2.6" fill="#9acd1e"/>
<text x="187.00" y="225.10" font-size="7.0" fill="#1e1e1e" stroke="#1e1e1e" stroke-width="0.42" textLength="7.20" lengthAdjust="spacingAndGlyphs" font-weight="bold">(f)</text>
<defs><linearGradient id="ftop" x1="0" y1="0" x2="1" y2="0"><stop offset="0" stop-color="#6a6a6a"/><stop offset="0.4" stop-color="#8080b8"/><stop offset="0.7" stop-color="#808090"/><stop offset="1" stop-color="#707070"/></linearGradient></defs>
<rect x="210.5" y="220.75" width="146.5" height="1" fill="url(#ftop)"/>
<line x1="357.00" y1="221.25" x2="357.00" y2="315.80" stroke="#6a6a6a" stroke-width="1"/>
<line x1="210.50" y1="221.25" x2="210.50" y2="315.80" stroke="#6a6a6a" stroke-width="1"/>
<line x1="210.50" y1="315.80" x2="357.00" y2="315.80" stroke="#6a6a6a" stroke-width="1"/>
<line x1="208.50" y1="221.25" x2="210.50" y2="221.25" stroke="#6a6a6a" stroke-width="0.9"/>
<text x="205.60" y="223.55" font-size="6.6" fill="#262626" stroke="#262626" stroke-width="0.3" text-anchor="end">0</text>
<line x1="208.50" y1="240.16" x2="210.50" y2="240.16" stroke="#6a6a6a" stroke-width="0.9"/>
<text x="205.60" y="242.46" font-size="6.6" fill="#262626" stroke="#262626" stroke-width="0.3" text-anchor="end">-0.1</text>
<line x1="208.50" y1="259.07" x2="210.50" y2="259.07" stroke="#6a6a6a" stroke-width="0.9"/>
<text x="205.60" y="261.37" font-size="6.6" fill="#262626" stroke="#262626" stroke-width="0.3" text-anchor="end">-0.2</text>
<line x1="208.50" y1="277.98" x2="210.50" y2="277.98" stroke="#6a6a6a" stroke-width="0.9"/>
<text x="205.60" y="280.28" font-size="6.6" fill="#262626" stroke="#262626" stroke-width="0.3" text-anchor="end">-0.3</text>
<line x1="208.50" y1="296.89" x2="210.50" y2="296.89" stroke="#6a6a6a" stroke-width="0.9"/>
<text x="205.60" y="299.19" font-size="6.6" fill="#262626" stroke="#262626" stroke-width="0.3" text-anchor="end">-0.4</text>
<line x1="208.50" y1="315.80" x2="210.50" y2="315.80" stroke="#6a6a6a" stroke-width="0.9"/>
<text x="205.60" y="318.10" font-size="6.6" fill="#262626" stroke="#262626" stroke-width="0.3" text-anchor="end">-0.5</text>
<text transform="translate(188.50,298.80) rotate(-90)" x="0" y="0" font-size="8.3" fill="#262626" stroke="#262626" stroke-width="0.3" textLength="58.30" lengthAdjust="spacingAndGlyphs">Energy/Hartree</text>
<rect x="220.6" y="249.1" width="11.1" height="1.5" fill="#a6a6a6"/>
<rect x="220.4" y="287.2" width="11.4" height="1.8" fill="#000000"/>
<rect x="250.0" y="258.55" width="11.6" height="1.9" fill="#92d050"/>
<rect x="250.0" y="275.05" width="11.6" height="1.9" fill="#00a84a"/>
<rect x="265.1" y="258.55" width="11.6" height="1.9" fill="#92d050"/>
<rect x="265.1" y="272.75" width="11.6" height="1.9" fill="#00a84a"/>
<rect x="279.7" y="257.85" width="11.6" height="1.9" fill="#92d050"/>
<rect x="279.7" y="271.15" width="11.6" height="1.9" fill="#00a84a"/>
<rect x="294.3" y="257.55" width="11.6" height="1.9" fill="#92d050"/>
<rect x="294.3" y="269.35" width="11.6" height="1.9" fill="#00a84a"/>
<rect x="309.1" y="260.35" width="11.6" height="1.9" fill="#92d050"/>
<rect x="309.1" y="269.35" width="11.6" height="1.9" fill="#00a84a"/>
<rect x="324.2" y="260.75" width="11.6" height="1.9" fill="#92d050"/>
<rect x="324.2" y="271.95" width="11.6" height="1.9" fill="#00a84a"/>
<rect x="339.2" y="263.45" width="11.6" height="1.9" fill="#92d050"/>
<rect x="339.2" y="274.75" width="11.6" height="1.9" fill="#00a84a"/>
<text x="219.10" y="298.90" font-size="6.4" fill="#262626" stroke="#262626" stroke-width="0.3" textLength="13.00" lengthAdjust="spacingAndGlyphs">DDD</text>
<text x="250.60" y="286.60" font-size="6.4" fill="#262626" stroke="#262626" stroke-width="0.3" textLength="10.40" lengthAdjust="spacingAndGlyphs">Cy5</text>
<text x="262.30" y="256.30" font-size="6.4" fill="#262626" stroke="#262626" stroke-width="0.3" textLength="16.10" lengthAdjust="spacingAndGlyphs">IR785</text>
<text x="278.75" y="281.50" font-size="6.4" fill="#262626" stroke="#262626" stroke-width="0.3" textLength="15.00" lengthAdjust="spacingAndGlyphs">Q842</text>
<text x="293.20" y="254.50" font-size="6.4" fill="#262626" stroke="#262626" stroke-width="0.3" textLength="15.20" lengthAdjust="spacingAndGlyphs">Q995</text>
<text x="304.10" y="281.50" font-size="6.4" fill="#262626" stroke="#262626" stroke-width="0.3" textLength="18.70" lengthAdjust="spacingAndGlyphs">Q1044</text>
<text x="320.40" y="256.10" font-size="6.4" fill="#262626" stroke="#262626" stroke-width="0.3" textLength="19.20" lengthAdjust="spacingAndGlyphs">Q1086</text>
<text x="339.20" y="284.70" font-size="6.4" fill="#262626" stroke="#262626" stroke-width="0.3" textLength="12.60" lengthAdjust="spacingAndGlyphs">IR26</text>
</svg>
</body></html>
